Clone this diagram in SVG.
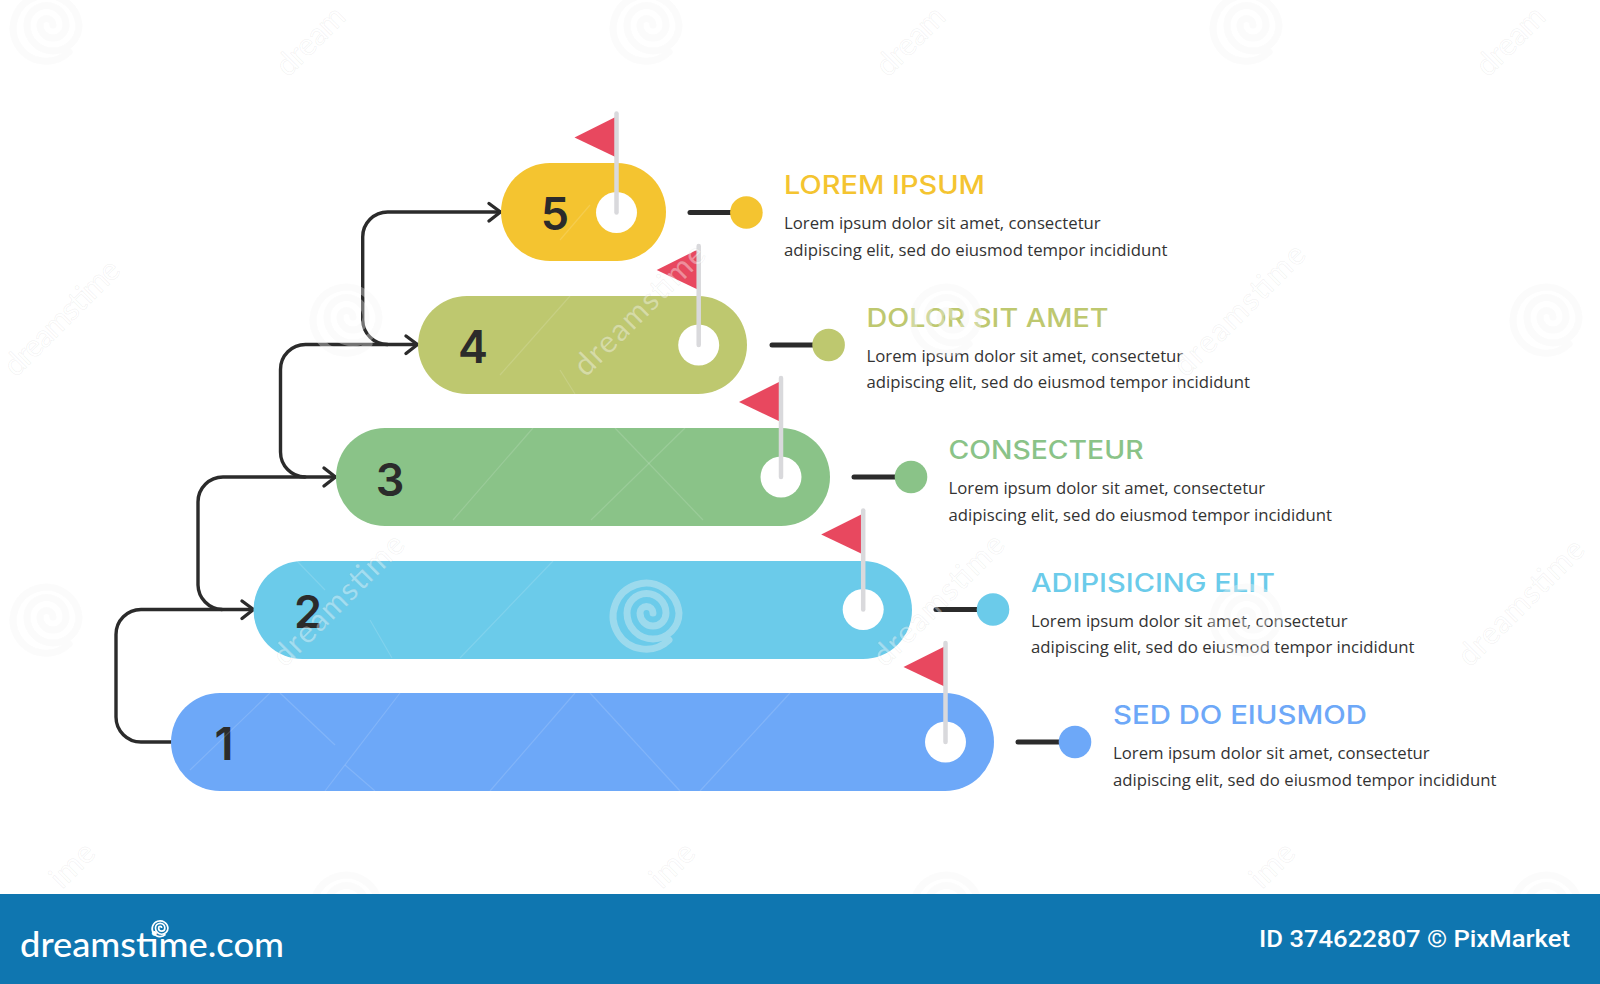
<svg xmlns="http://www.w3.org/2000/svg" xmlns:xlink="http://www.w3.org/1999/xlink" width="1600" height="984" viewBox="0 0 1600 984">
<style>
.pill{stroke:none}
.hole{fill:#fff}
.num{font-family:Inter,"Liberation Sans",sans-serif;font-weight:600;font-size:45px;fill:#2b2b2b;text-anchor:middle}
.title{font-family:Inter,"Liberation Sans",sans-serif;font-weight:500;font-size:25px}
.body{font-family:"Open Sans","Liberation Sans",sans-serif;font-size:16.740px;fill:#333}
.lead{stroke:#2b2b2b;stroke-width:5;stroke-linecap:round;fill:none}
.conn{stroke:#2b2b2b;stroke-width:3.4;fill:none;stroke-linecap:round;stroke-linejoin:round}
.wmt{font-family:Lato,"Liberation Sans",sans-serif;font-size:31px;fill:#fff;fill-opacity:.4;stroke:#777;stroke-opacity:.1;stroke-width:.7}
.dia{stroke:#fff;stroke-opacity:.14;stroke-width:1.2}
</style>
<defs>
<g id="flag">
<polygon points="-42,-75 0,-96 0,-55" fill="#E8485F"/>
<line x1="0" y1="-99" x2="0" y2="0" stroke="#D9D9DC" stroke-width="4.5" stroke-linecap="round"/>
</g>
<g id="spiral" fill="none" stroke-linecap="round">
<path d="M3 0a6.500 6.500 0 0 0-13 0a13 13 0 0 0 26 0a19.500 19.500 0 0 0-39 0a26 26 0 0 0 52 0a33 33 0 1 0-10 27" stroke="#000" stroke-opacity=".022" stroke-width="7"/>
<path d="M3 0a6.500 6.500 0 0 0-13 0a13 13 0 0 0 26 0a19.500 19.500 0 0 0-39 0a26 26 0 0 0 52 0a33 33 0 1 0-10 27" stroke="#fff" stroke-opacity=".35" stroke-width="7"/>
</g>
</defs>
<rect width="1600" height="984" fill="#fff"/>
<g id="connectors" class="conn">
<path d="M171 742H141A25 25 0 0 1 116 717V634.500A25 25 0 0 1 141 609.500H253"/>
<path d="M242 601L253.500 609.500L242 618.500"/>
<path d="M222 609.500A25 25 0 0 1 198 585V502A25 25 0 0 1 223 477H335"/>
<path d="M324 468L335.500 477L324 486"/>
<path d="M305 477A25 25 0 0 1 280.500 452V369.500A25 25 0 0 1 305.500 344.500H417"/>
<path d="M406 336L417.500 344.500L406 353.500"/>
<path d="M387.500 344.500A25 25 0 0 1 362.700 320V237A25 25 0 0 1 387.700 212H500"/>
<path d="M489 203.500L500.500 212L489 221"/>
</g>
<g id="node5">
<rect class="pill" x="501" y="163" width="165" height="98" rx="49" fill="#F4C430"/>
<circle class="hole" cx="616.500" cy="212.500" r="20.500"/>
<use xlink:href="#flag" href="#flag" x="616.500" y="212.500"/>
<text class="num" x="555" y="230">5</text>
<line class="lead" x1="690" y1="212.500" x2="735" y2="212.500"/>
<circle cx="746.400" cy="212.500" r="16.300" fill="#F4C430"/>
<text class="title" x="784" y="194.300" fill="#F4C430" textLength="201" lengthAdjust="spacingAndGlyphs">LOREM IPSUM</text>
<text class="body" x="784" y="229">Lorem ipsum dolor sit amet, consectetur</text>
<text class="body" x="784" y="255.500">adipiscing elit, sed do eiusmod tempor incididunt</text>
</g>
<g id="node4">
<rect class="pill" x="418" y="296" width="329" height="98" rx="49" fill="#BEC86F"/>
<circle class="hole" cx="698.700" cy="345" r="20.500"/>
<use xlink:href="#flag" href="#flag" x="698.700" y="345"/>
<text class="num" x="473" y="363">4</text>
<line class="lead" x1="772" y1="345" x2="817" y2="345"/>
<circle cx="828.600" cy="345" r="16.300" fill="#BEC86F"/>
<text class="title" x="866.500" y="326.800" fill="#BEC86F" textLength="242" lengthAdjust="spacingAndGlyphs">DOLOR SIT AMET</text>
<text class="body" x="866.500" y="361.500">Lorem ipsum dolor sit amet, consectetur</text>
<text class="body" x="866.500" y="388">adipiscing elit, sed do eiusmod tempor incididunt</text>
</g>
<g id="node3">
<rect class="pill" x="336" y="428" width="494" height="98" rx="49" fill="#8AC388"/>
<circle class="hole" cx="781" cy="477" r="20.500"/>
<use xlink:href="#flag" href="#flag" x="781" y="477"/>
<text class="num" x="390" y="495.500">3</text>
<line class="lead" x1="854" y1="477" x2="899" y2="477"/>
<circle cx="911" cy="477" r="16.300" fill="#8AC388"/>
<text class="title" x="948.500" y="459.300" fill="#8AC388" textLength="195" lengthAdjust="spacingAndGlyphs">CONSECTEUR</text>
<text class="body" x="948.500" y="494">Lorem ipsum dolor sit amet, consectetur</text>
<text class="body" x="948.500" y="520.500">adipiscing elit, sed do eiusmod tempor incididunt</text>
</g>
<g id="node2">
<rect class="pill" x="253.500" y="561" width="658.500" height="98" rx="49" fill="#6BCBEA"/>
<circle class="hole" cx="863.200" cy="609.500" r="20.500"/>
<use xlink:href="#flag" href="#flag" x="863.200" y="609.500"/>
<text class="num" x="308" y="628">2</text>
<line class="lead" x1="936" y1="609.500" x2="981" y2="609.500"/>
<circle cx="993" cy="609.500" r="16.300" fill="#6BCBEA"/>
<text class="title" x="1031" y="591.800" fill="#6BCBEA" textLength="244" lengthAdjust="spacingAndGlyphs">ADIPISICING ELIT</text>
<text class="body" x="1031" y="626.500">Lorem ipsum dolor sit amet, consectetur</text>
<text class="body" x="1031" y="653">adipiscing elit, sed do eiusmod tempor incididunt</text>
</g>
<g id="node1">
<rect class="pill" x="171" y="693" width="823" height="98" rx="49" fill="#6DA8F8"/>
<circle class="hole" cx="945.500" cy="742" r="20.500"/>
<use xlink:href="#flag" href="#flag" x="945.500" y="742"/>
<text class="num" x="224" y="760">1</text>
<line class="lead" x1="1018" y1="742" x2="1063" y2="742"/>
<circle cx="1075" cy="742" r="16.300" fill="#6DA8F8"/>
<text class="title" x="1113" y="724.300" fill="#6DA8F8" textLength="254" lengthAdjust="spacingAndGlyphs">SED DO EIUSMOD</text>
<text class="body" x="1113" y="759">Lorem ipsum dolor sit amet, consectetur</text>
<text class="body" x="1113" y="785.500">adipiscing elit, sed do eiusmod tempor incididunt</text>
</g>
<g id="watermark">
<g class="dia">
<line x1="553" y1="561" x2="460" y2="658"/>
<line x1="533" y1="428" x2="453" y2="520"/>
<line x1="685" y1="428" x2="591" y2="520"/>
<line x1="615" y1="428" x2="703" y2="520"/>
<line x1="297" y1="561" x2="325" y2="590"/>
<line x1="370" y1="620" x2="392" y2="658"/>
<line x1="270" y1="693" x2="190" y2="770"/>
<line x1="280" y1="693" x2="335" y2="745"/>
<line x1="400" y1="693" x2="325" y2="791"/>
<line x1="345" y1="765" x2="375" y2="791"/>
<line x1="575" y1="693" x2="490" y2="791"/>
<line x1="590" y1="693" x2="680" y2="791"/>
<line x1="790" y1="693" x2="700" y2="791"/>
<line x1="570" y1="296" x2="500" y2="375"/>
<line x1="560" y1="370" x2="575" y2="394"/>
<line x1="590" y1="205" x2="560" y2="240"/>
</g>
<use xlink:href="#spiral" href="#spiral" x="50" y="25"/>
<use xlink:href="#spiral" href="#spiral" x="650" y="25"/>
<use xlink:href="#spiral" href="#spiral" x="1250" y="25"/>
<use xlink:href="#spiral" href="#spiral" x="350" y="317"/>
<use xlink:href="#spiral" href="#spiral" x="950" y="317"/>
<use xlink:href="#spiral" href="#spiral" x="1550" y="317"/>
<use xlink:href="#spiral" href="#spiral" x="50" y="617"/>
<use xlink:href="#spiral" href="#spiral" x="650" y="613"/>
<use xlink:href="#spiral" href="#spiral" x="1250" y="617"/>
<use xlink:href="#spiral" href="#spiral" x="350" y="905"/>
<use xlink:href="#spiral" href="#spiral" x="950" y="905"/>
<use xlink:href="#spiral" href="#spiral" x="1550" y="905"/>
<text class="wmt" transform="translate(288 78) rotate(-45)" textLength="84">dream</text>
<text class="wmt" transform="translate(888 78) rotate(-45)" textLength="84">dream</text>
<text class="wmt" transform="translate(1488 78) rotate(-45)" textLength="84">dream</text>
<text class="wmt" transform="translate(16 378) rotate(-45)" textLength="150">dreamstime</text>
<text class="wmt" transform="translate(586 378) rotate(-45)" textLength="172">dreamstime</text>
<text class="wmt" transform="translate(1186 378) rotate(-45)" textLength="172">dreamstime</text>
<text class="wmt" transform="translate(285 668) rotate(-45)" textLength="172">dreamstime</text>
<text class="wmt" transform="translate(885 668) rotate(-45)" textLength="172">dreamstime</text>
<text class="wmt" transform="translate(1470 668) rotate(-45)" textLength="165">dreamstime</text>
<text class="wmt" transform="translate(62 890) rotate(-45)" textLength="50">ime</text>
<text class="wmt" transform="translate(662 890) rotate(-45)" textLength="50">ime</text>
<text class="wmt" transform="translate(1262 890) rotate(-45)" textLength="50">ime</text>
</g>
<g id="footer">
<rect x="0" y="894" width="1600" height="90" fill="#0F76B0"/>
<text x="20" y="957" font-family="Lato,'Liberation Sans',sans-serif" font-size="34" font-weight="500" fill="#fff" textLength="264" lengthAdjust="spacingAndGlyphs">dreamstime.com</text>
<g transform="translate(161 928) scale(.24)"><path d="M3 0a6.500 6.500 0 0 0-13 0a13 13 0 0 0 26 0a19.500 19.500 0 0 0-39 0a26 26 0 0 0 52 0a33 33 0 1 0-10 27" fill="none" stroke="#fff" stroke-width="7"/></g>
<text x="1259" y="947" font-family="Roboto,'Liberation Sans',sans-serif" font-size="23" font-weight="500" fill="#fff" textLength="311" lengthAdjust="spacingAndGlyphs">ID 374622807 © PixMarket</text>
</g>
</svg>
